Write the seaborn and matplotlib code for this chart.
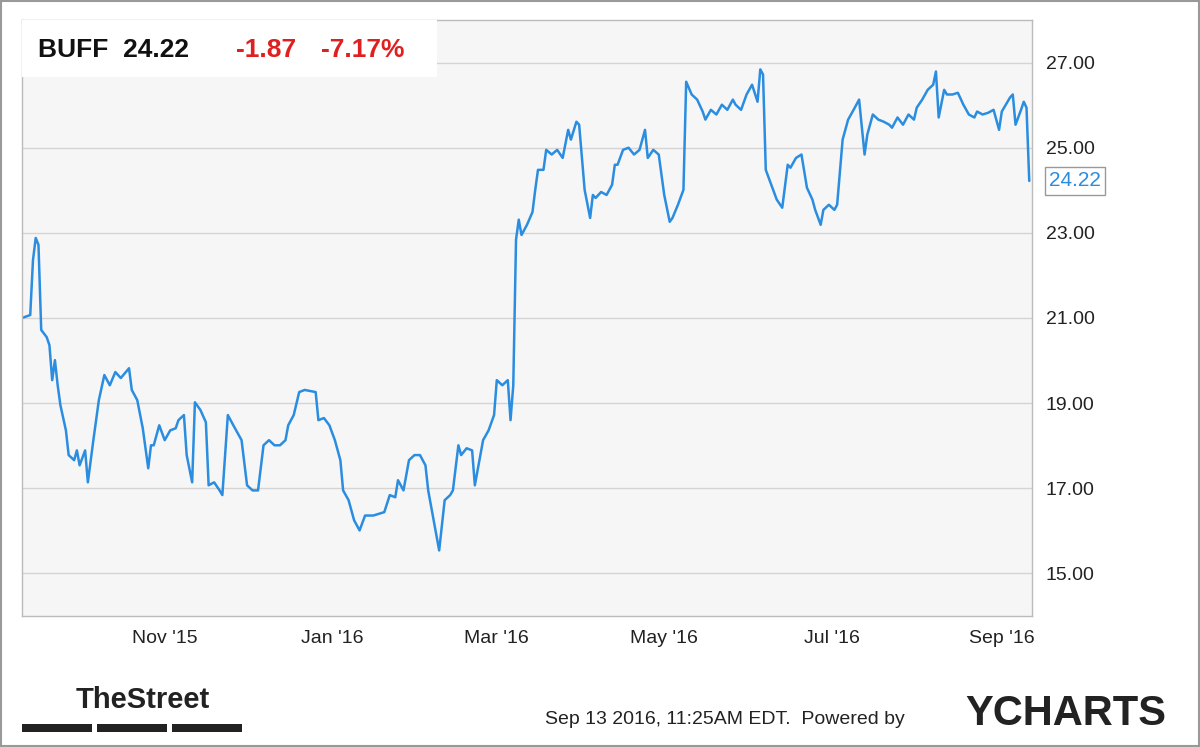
import pandas as pd
import matplotlib.pyplot as plt
import seaborn as sns

START = "2015-09-10"
DAY_OFFSETS = [0, 3, 4, 5, 6, 7, 9, 10, 11, 12, 13, 14, 16, 17, 19, 20, 21, 23, 24, 26,
               28, 30, 32, 34, 36, 39, 40, 42, 44, 46, 47, 48, 50, 52, 54, 56, 57, 59, 60, 62,
               63, 65, 67, 68, 70, 72, 73, 75, 77, 80, 82, 84, 86, 88, 90, 92, 94, 96, 97, 99,
               101, 103, 107, 108, 110, 112, 114, 116, 117, 119, 121, 123, 125, 128, 132, 134, 136, 137, 139, 141,
               143, 145, 147, 148, 150, 152, 154, 156, 157, 159, 160, 162, 164, 165, 167, 168, 170, 172, 173, 175,
               177, 178, 179, 180, 181, 182, 184, 186, 187, 188, 190, 191, 193, 195, 197, 199, 200, 202, 203, 205,
               207, 208, 209, 211, 213, 215, 216, 217, 219, 221, 223, 225, 227, 228, 230, 232, 234, 236, 237, 239,
               241, 242, 244, 246, 248, 249, 251, 253, 255, 257, 259, 260, 262, 264, 266, 268, 269, 270, 271, 273,
               275, 277, 279, 280, 282, 284, 286, 288, 289, 291, 292, 294, 296, 297, 299, 301, 303, 305, 307, 308,
               310, 312, 314, 316, 317, 319, 321, 323, 325, 326, 328, 330, 332, 333, 334, 336, 337, 339, 341, 343,
               345, 347, 348, 350, 352, 354, 356, 357, 360, 361, 362, 364, 365, 366, 367]
PRICES = [21.0, 21.07, 22.36, 22.88, 22.72, 20.72, 20.55, 20.36, 19.54, 20.01, 19.42, 18.95, 18.36, 17.78, 17.66, 17.89, 17.54, 17.89, 17.14, 18.13,
          19.07, 19.66, 19.42, 19.73, 19.59, 19.82, 19.31, 19.07, 18.41, 17.47, 18.01, 18.01, 18.48, 18.13, 18.36, 18.41, 18.6, 18.72, 17.78, 17.14,
          19.02, 18.84, 18.55, 17.07, 17.14, 16.95, 16.84, 18.72, 18.48, 18.13, 17.07, 16.95, 16.95, 18.01, 18.13, 18.01, 18.01, 18.13, 18.48, 18.72,
          19.26, 19.31, 19.26, 18.6, 18.65, 18.48, 18.13, 17.66, 16.95, 16.72, 16.25, 16.01, 16.36, 16.36, 16.44, 16.84, 16.79, 17.19, 16.95, 17.66,
          17.78, 17.78, 17.54, 16.95, 16.25, 15.54, 16.72, 16.84, 16.95, 18.01, 17.78, 17.94, 17.89, 17.07, 17.78, 18.13, 18.36, 18.72, 19.54, 19.42,
          19.54, 18.6, 19.42, 22.84, 23.31, 22.95, 23.19, 23.49, 24.01, 24.48, 24.48, 24.95, 24.84, 24.95, 24.76, 25.42, 25.19, 25.61, 25.54, 24.01,
          23.35, 23.89, 23.82, 23.96, 23.89, 24.13, 24.6, 24.6, 24.95, 25.0, 24.84, 24.95, 25.42, 24.76, 24.95, 24.84, 23.89, 23.26, 23.35, 23.66,
          24.01, 26.55, 26.25, 26.13, 25.85, 25.66, 25.89, 25.78, 26.01, 25.89, 26.13, 26.01, 25.89, 26.25, 26.48, 26.08, 26.84, 26.72, 24.48, 24.13,
          23.78, 23.59, 24.6, 24.53, 24.76, 24.84, 24.06, 23.78, 23.54, 23.19, 23.54, 23.66, 23.54, 23.66, 25.19, 25.66, 25.89, 26.13, 24.84, 25.31,
          25.78, 25.66, 25.61, 25.54, 25.47, 25.71, 25.54, 25.78, 25.66, 25.94, 26.13, 26.36, 26.48, 26.79, 25.71, 26.36, 26.25, 26.25, 26.29, 26.01,
          25.78, 25.71, 25.85, 25.78, 25.82, 25.89, 25.42, 25.85, 26.18, 26.25, 25.54, 25.89, 26.08, 25.94, 24.22]
Y_TICKS = [15, 17, 19, 21, 23, 25, 27]
X_TICKS = ["2015-11-01", "2016-01-01", "2016-03-01", "2016-05-01", "2016-07-01", "2016-09-01"]
X_LABELS = ["Nov '15", "Jan '16", "Mar '16", "May '16", "Jul '16", "Sep '16"]

df = pd.DataFrame({"date": pd.Timestamp(START) + pd.to_timedelta(DAY_OFFSETS, unit="D"),
                   "price": PRICES})

sns.set_style("white")
plt.rcParams['font.family'] = ['Liberation Sans', 'DejaVu Sans']

fig = plt.figure(figsize=(12, 7.47), dpi=100)
fig.patch.set_facecolor("white")
ax = fig.add_axes([22/1200, 131/747, 1010/1200, 596/747])
ax.set_facecolor("#f6f6f6")

sns.lineplot(data=df, x="date", y="price", ax=ax, color="#2b8de0", linewidth=1.8)

ax.set_ylim(14.0, 28.0)
ax.set_xlim(pd.Timestamp("2015-09-10"), pd.Timestamp("2016-09-12"))
ax.set_yticks(Y_TICKS)
ax.set_yticklabels([f"{v:.2f}" for v in Y_TICKS])
ax.set_xticks(pd.to_datetime(X_TICKS))
ax.set_xticklabels(X_LABELS)
ax.yaxis.tick_right()
ax.tick_params(axis="both", labelsize=14, colors="#222222", length=0, pad=10)
ax.grid(True, axis="y", color="#d4d4d4", linewidth=1)
ax.set_xlabel("")
ax.set_ylabel("")
for s in ax.spines.values():
    s.set_color("#bbbbbb")
    s.set_linewidth(1)

# header box
fig.patches.append(plt.Rectangle((22/1200, 670/747), 415/1200, 57/747, transform=fig.transFigure,
                                 facecolor="white", edgecolor="none", zorder=5))
fig.text(38/1200, 697/747, "BUFF  24.22", fontsize=19, fontweight="bold", color="#111111",
         va="center", zorder=6)
fig.text(236/1200, 697/747, "-1.87", fontsize=19, fontweight="bold", color="#e02020",
         va="center", zorder=6)
fig.text(321/1200, 697/747, "-7.17%", fontsize=19, fontweight="bold", color="#e02020",
         va="center", zorder=6)

# last price label
last = df["price"].iloc[-1]
ax.annotate(f"{last:.2f}", xy=(1.0, (last - 14) / 14), xycoords="axes fraction",
            xytext=(12, 0), textcoords="offset points", va="center", ha="left",
            fontsize=15, color="#2b8de0",
            bbox=dict(boxstyle="square,pad=0.2", facecolor="white", edgecolor="#999999"),
            annotation_clip=False)

# footer
fig.text(76/1200, 47/747, "TheStreet", fontsize=21, fontweight="bold", color="#222222",
         va="center", family=["Liberation Sans Narrow", "Liberation Sans"])
for x0 in [22, 97, 172]:
    fig.patches.append(plt.Rectangle((x0/1200, 15/747), 70/1200, 8/747, transform=fig.transFigure,
                                     facecolor="#222222", edgecolor="none"))
fig.text(545/1200, 28/747, "Sep 13 2016, 11:25AM EDT.  Powered by", fontsize=14,
         color="#222222", va="center")
fig.text(965/1200, 33/747, "YCHARTS", fontsize=30, fontweight="bold", color="#222222", va="center")

fig.patches.append(plt.Rectangle((0.001, 0.001), 0.998, 0.998, transform=fig.transFigure,
                                 facecolor="none", edgecolor="#999999", linewidth=1.5))

fig.savefig("out.png", dpi=100)
